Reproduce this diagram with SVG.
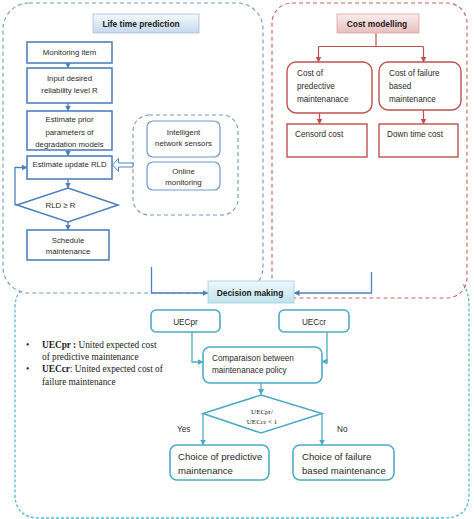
<svg xmlns="http://www.w3.org/2000/svg" width="474" height="519" viewBox="0 0 474 519">
<defs>
<style>
.t{font-family:"Liberation Sans",Arial,sans-serif;fill:#2a2a2a}
.s75{font-size:7.8px}
.s8{font-size:8.2px}
.ttl{font-family:"Liberation Sans",Arial,sans-serif;font-weight:bold;fill:#222;font-size:8.4px}
.serif{font-family:"Liberation Serif","Times New Roman",serif;fill:#222}
.bbox{fill:#fff;stroke:#4F81BD;stroke-width:1.6}
.rbox{fill:#fff;stroke:#C0504D;stroke-width:1.4}
.cbox{fill:#fff;stroke:#4BACC6;stroke-width:1.6}
.sbox{fill:#fff;stroke:#6E97CC;stroke-width:1.2}
.bl{fill:none;stroke:#4F81BD;stroke-width:1.3}
.rl{fill:none;stroke:#C0504D;stroke-width:1.2}
.cl{fill:none;stroke:#4BACC6;stroke-width:1.3}
.dashB{fill:none;stroke:#7397C6;stroke-width:1.1;stroke-dasharray:4 3}
.dashR{fill:none;stroke:#C9625F;stroke-width:1.1;stroke-dasharray:4 3}
.dashC{fill:none;stroke:#5BB8D0;stroke-width:1.3;stroke-dasharray:3 2}
</style>
<marker id="ab" markerWidth="6" markerHeight="6" refX="5" refY="3" orient="auto" markerUnits="userSpaceOnUse"><path d="M0,0 L6,3 L0,6 z" fill="#4F81BD"/></marker>
<marker id="ar" markerWidth="6" markerHeight="6" refX="5" refY="3" orient="auto" markerUnits="userSpaceOnUse"><path d="M0,0 L6,3 L0,6 z" fill="#C0504D"/></marker>
<marker id="ac" markerWidth="6" markerHeight="6" refX="5" refY="3" orient="auto" markerUnits="userSpaceOnUse"><path d="M0,0 L6,3 L0,6 z" fill="#4BACC6"/></marker>
<linearGradient id="gB" x1="0" y1="0" x2="0" y2="1"><stop offset="0" stop-color="#F4F8FC"/><stop offset="1" stop-color="#C6D9EF"/></linearGradient>
<linearGradient id="gR" x1="0" y1="0" x2="0" y2="1"><stop offset="0" stop-color="#FBEDED"/><stop offset="1" stop-color="#E8BFBE"/></linearGradient>
<linearGradient id="gC" x1="0" y1="0" x2="0" y2="1"><stop offset="0" stop-color="#EEF8FB"/><stop offset="1" stop-color="#BFE3EC"/></linearGradient>
</defs>
<rect width="474" height="519" fill="#fff"/>

<g id="containers">
<path class="dashC" d="M21,291 Q15,296 15,308 L15,494 Q15,518 40,518 L444,518 Q469,518 469,494 L469,306 Q469,292 463,284"/>
<rect id="lifetime-area" class="dashB" x="3" y="3" width="260" height="290" rx="26"/>
<rect id="cost-area" class="dashR" x="272" y="3" width="195" height="295" rx="20"/>
<rect id="sensor-area" class="dashB" x="133" y="115" width="105" height="100" rx="16"/>
</g>

<g id="connectors">
<path class="bl" d="M68,63 V67.5" marker-end="url(#ab)"/>
<path class="bl" d="M68,103 V110.5" marker-end="url(#ab)"/>
<path class="bl" d="M68,150 V155.5" marker-end="url(#ab)"/>
<path class="bl" d="M68,179 V187.5" marker-end="url(#ab)"/>
<path class="bl" d="M68,222 V229.5" marker-end="url(#ab)"/>
<path class="bl" d="M17,204.5 H15 V167.5 H26.5" marker-end="url(#ab)"/>
<polygon points="112.5,165 118.5,158.5 118.5,163 133,163 133,167 118.5,167 118.5,171.5" fill="#fff" stroke="#4F81BD" stroke-width="1"/>
<path class="bl" d="M151.5,267 V293 H207.5" marker-end="url(#ab)"/>
<path class="bl" d="M371.5,272 V293 H294.5" marker-end="url(#ab)"/>
<path class="rl" d="M376,33 V46.5 M318.5,46.5 H423.5"/>
<path class="rl" d="M318.5,46.5 V61.5" marker-end="url(#ar)"/>
<path class="rl" d="M423.5,46.5 V61.5" marker-end="url(#ar)"/>
<path class="rl" d="M319.5,113 V123.5" marker-end="url(#ar)"/>
<path class="rl" d="M423.5,110 V123.5" marker-end="url(#ar)"/>
<path class="cl" d="M192,332 V362 H202.5" marker-end="url(#ac)"/>
<path class="cl" d="M327,332 V361.5 H322.5" marker-end="url(#ac)"/>
<path class="cl" d="M261,383 V394" marker-end="url(#ac)"/>
<path class="cl" d="M203,413.5 V444.5" marker-end="url(#ac)"/>
<path class="cl" d="M322,413.5 V444.5" marker-end="url(#ac)"/>
</g>

<g id="title-lifetime">
<rect x="93" y="14" width="106" height="19" fill="url(#gB)" stroke="#A9BFD9" stroke-width="0.8"/>
<text class="ttl" x="141" y="27" text-anchor="middle" font-size="8.6px">Life time prediction</text>
</g>
<g id="title-cost">
<rect x="337" y="14" width="82" height="19" fill="url(#gR)" stroke="#D8A5A4" stroke-width="0.8"/>
<text class="ttl" x="377" y="27" text-anchor="middle">Cost modelling</text>
</g>

<g id="monitoring-item"><rect class="bbox" x="27" y="42" width="85" height="21"/><text class="t s75" x="69.5" y="55" text-anchor="middle">Monitoring item</text></g>
<g id="input-reliability"><rect class="bbox" x="27" y="68" width="85" height="35"/><text class="t s75" x="69.5" y="80.5" text-anchor="middle">Input desired</text><text class="t s75" x="69.5" y="92.5" text-anchor="middle">reliability level R</text></g>
<g id="estimate-prior"><rect class="bbox" x="27" y="111" width="85" height="39"/><text class="t s75" x="69.5" y="122" text-anchor="middle">Estimate prior</text><text class="t s75" x="69.5" y="134.5" text-anchor="middle">parameters of</text><text class="t s75" x="69.5" y="146.5" text-anchor="middle">degradation models</text></g>
<g id="estimate-update"><rect class="bbox" x="27" y="156" width="85" height="23"/><text class="t s75" x="69.5" y="167" text-anchor="middle">Estimate update RLD</text></g>
<g id="rld-check"><polygon class="bbox" points="68,188 118,205 68,222 17,205"/><text class="t s75" x="60.5" y="207.5" text-anchor="middle">RLD ≥ R</text></g>
<g id="schedule-maintenance"><rect class="bbox" x="27" y="230" width="82" height="30"/><text class="t s75" x="68" y="242.5" text-anchor="middle">Schedule</text><text class="t s75" x="68" y="254" text-anchor="middle">maintenance</text></g>
<g id="intelligent-sensors"><rect class="sbox" x="147" y="121" width="73" height="36" rx="6"/><text class="t s75" x="183.5" y="134.5" text-anchor="middle">Intelligent</text><text class="t s75" x="183.5" y="146" text-anchor="middle">network sensors</text></g>
<g id="online-monitoring"><rect class="sbox" x="147" y="162" width="73" height="28" rx="6"/><text class="t s75" x="183.5" y="174" text-anchor="middle">Online</text><text class="t s75" x="183.5" y="185" text-anchor="middle">monitoring</text></g>

<g id="cost-predictive"><rect class="rbox" x="287" y="62" width="85" height="51" rx="9"/><text class="t s8" x="297" y="75.5">Cost of</text><text class="t s8" x="297" y="88.5">predective</text><text class="t s8" x="297" y="101.5">maintenanace</text></g>
<g id="cost-failure"><rect class="rbox" x="379" y="62" width="82" height="48" rx="9"/><text class="t s8" x="389" y="75.5">Cost of failure</text><text class="t s8" x="389" y="88.5">based</text><text class="t s8" x="389" y="101.5">maintenance</text></g>
<g id="censord-cost"><rect class="rbox" x="287" y="124" width="80" height="33"/><text class="t s8" x="295" y="137">Censord cost</text></g>
<g id="down-time-cost"><rect class="rbox" x="379" y="124" width="79" height="33"/><text class="t s8" x="387" y="137">Down time cost</text></g>

<g id="decision-making">
<rect x="208" y="281" width="86" height="22" fill="url(#gC)" stroke="#9CCFDD" stroke-width="0.8"/>
<text class="ttl" x="250" y="295.5" text-anchor="middle" font-size="8.4px">Decision making</text>
</g>

<g id="legend">
<text class="serif" x="26" y="348" font-size="9.3px">•</text>
<text class="serif" x="42" y="348" font-size="9.3px"><tspan font-weight="bold">UECpr :</tspan> United expected cost</text>
<text class="serif" x="42" y="360" font-size="9.3px">of predictive maintenance</text>
<text class="serif" x="26" y="372" font-size="9.3px">•</text>
<text class="serif" x="42" y="372" font-size="9.3px"><tspan font-weight="bold">UECcr</tspan>: United expected cost of</text>
<text class="serif" x="42" y="384.5" font-size="9.3px">failure maintenance</text>
</g>

<g id="uecpr"><rect class="cbox" x="151" y="310" width="69" height="22" rx="5"/><text class="t s8" x="185.5" y="324.5" text-anchor="middle">UECpr</text></g>
<g id="ueccr"><rect class="cbox" x="279" y="310" width="70" height="22" rx="5"/><text class="t s8" x="314" y="324.5" text-anchor="middle">UECcr</text></g>
<g id="comparison"><rect class="cbox" x="203" y="347" width="119" height="36" rx="7"/><text class="t s8" x="212" y="361">Comparaison between</text><text class="t s8" x="212" y="373">maintenanace policy</text></g>
<g id="ratio-check"><polygon class="cbox" points="261,395 322,413.5 261,433 203,413.5"/><text class="serif" x="262" y="414" font-size="7px" text-anchor="middle">UECpr/</text><text class="serif" x="262" y="424" font-size="7px" text-anchor="middle">UECcr &lt; 1</text></g>
<g id="labels"><text class="t s8" x="177" y="432">Yes</text><text class="t s8" x="337" y="432">No</text></g>
<g id="choice-predictive"><rect class="cbox" x="170" y="445" width="99" height="35" rx="7"/><text class="t" x="178" y="459.5" font-size="9.6px">Choice of predictive</text><text class="t" x="178" y="473.5" font-size="9.6px">maintenance</text></g>
<g id="choice-failure"><rect class="cbox" x="293" y="445" width="101" height="35" rx="7"/><text class="t" x="302" y="459.5" font-size="9.6px">Choice of failure</text><text class="t" x="302" y="473.5" font-size="9.6px">based maintenance</text></g>
</svg>
